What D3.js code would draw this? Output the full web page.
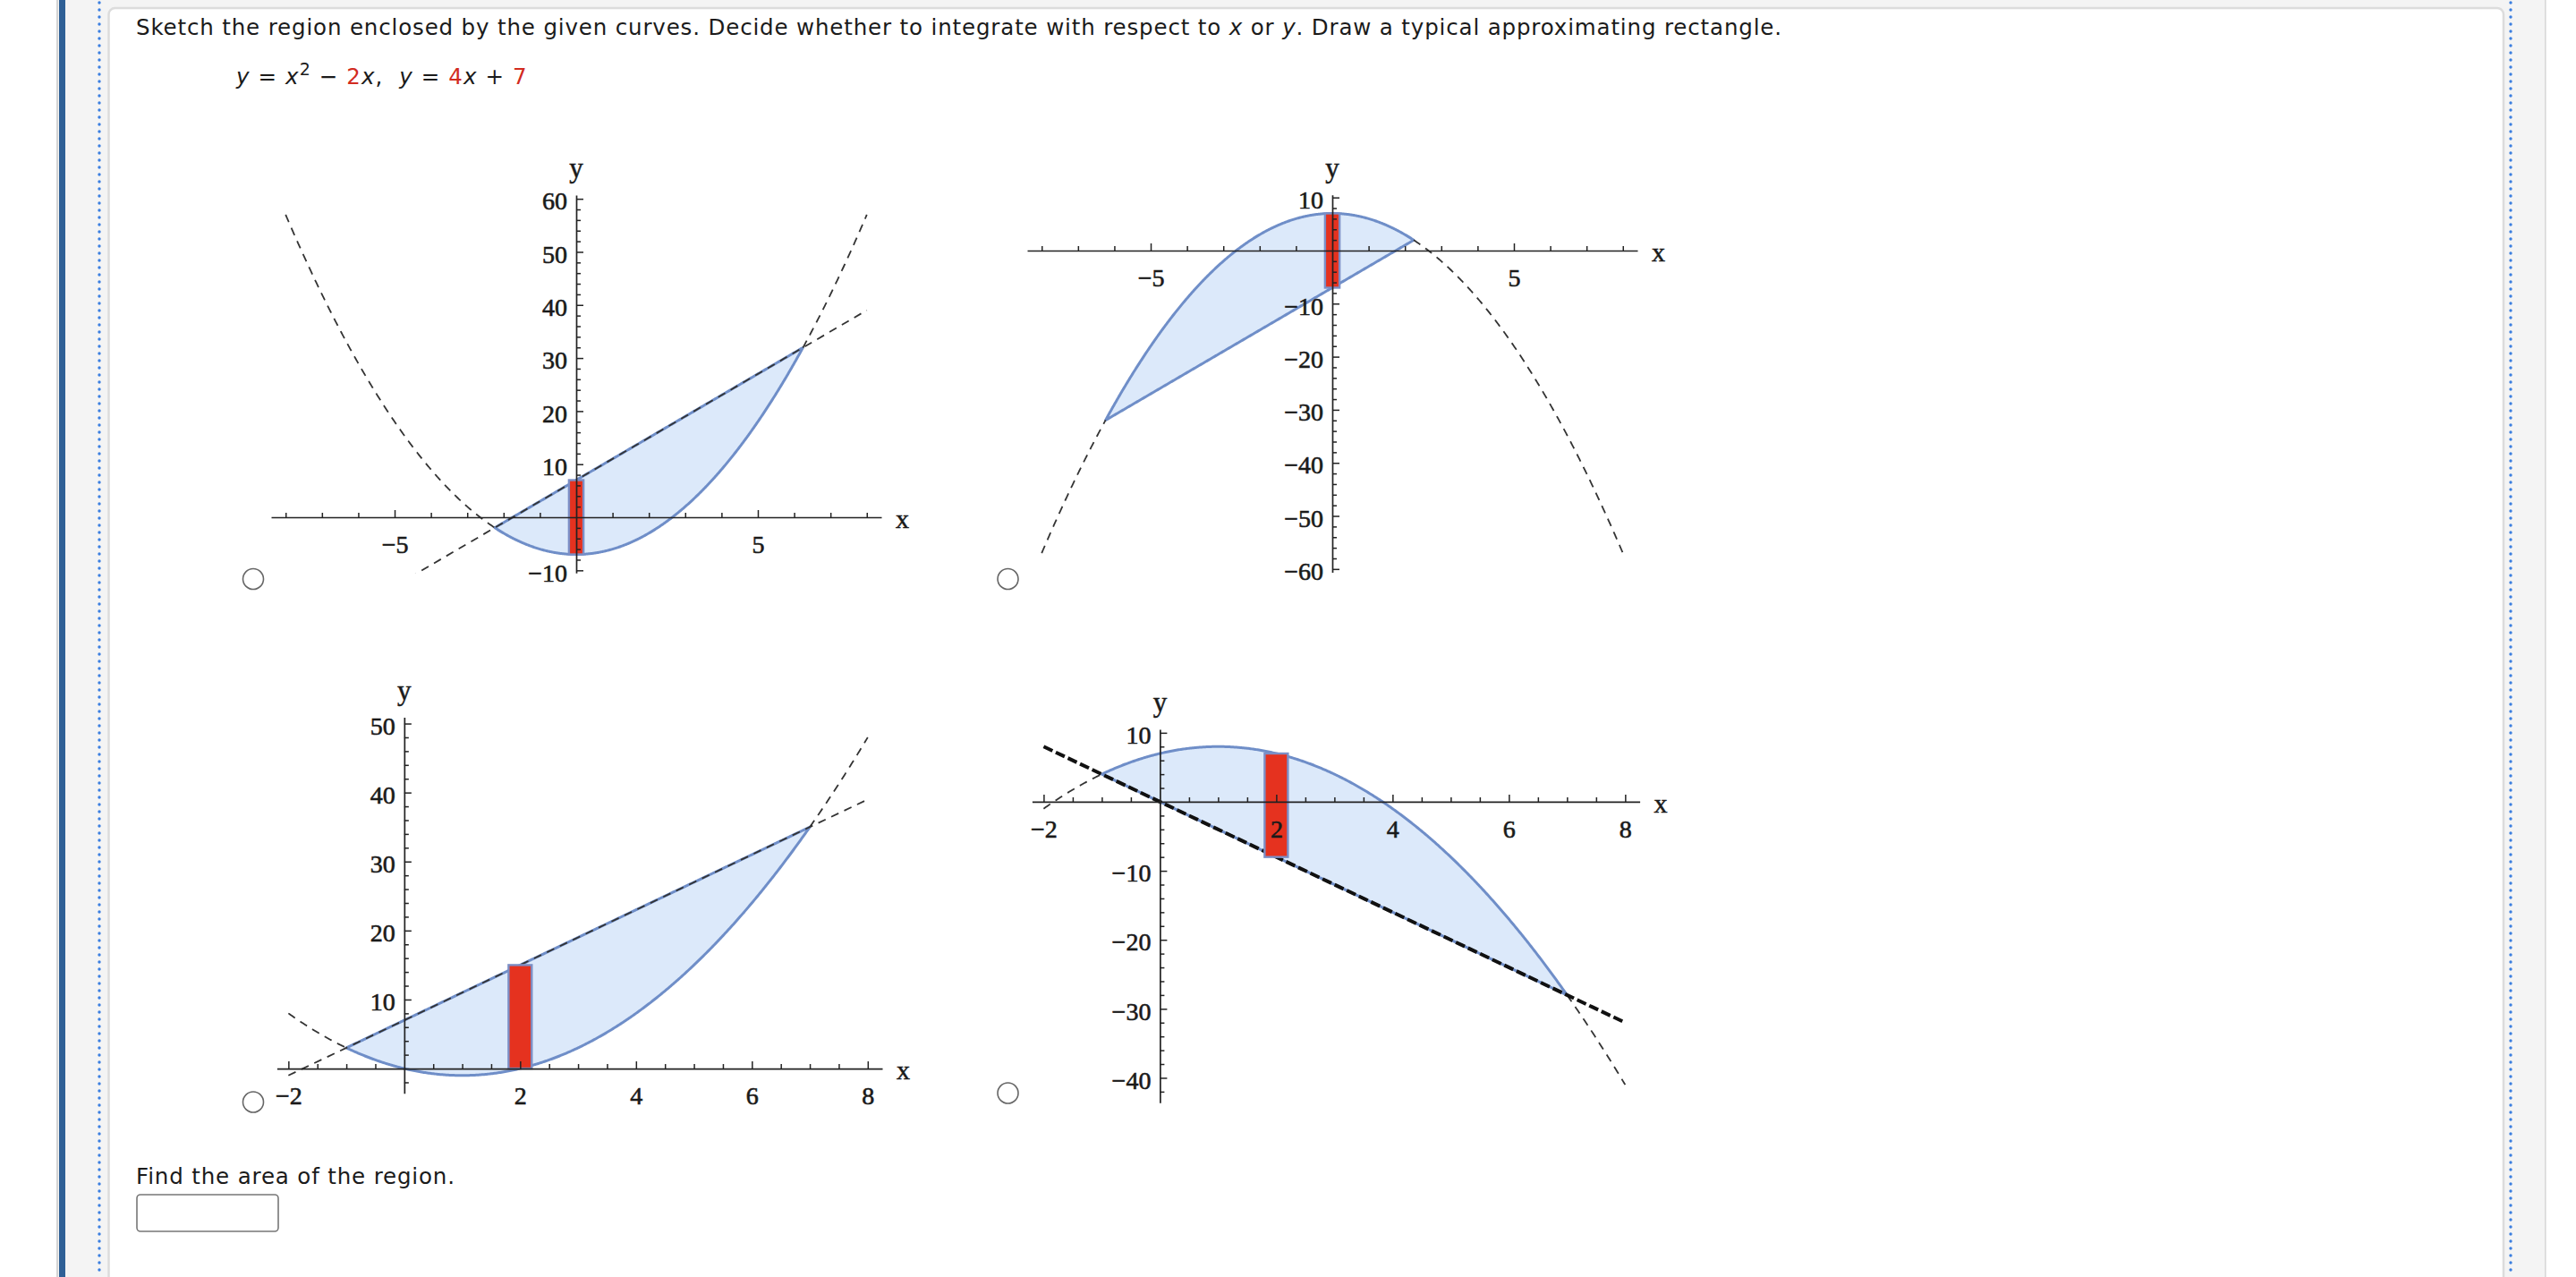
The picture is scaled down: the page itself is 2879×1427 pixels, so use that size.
<!DOCTYPE html>
<html>
<head>
<meta charset="utf-8">
<script src="https://cdn.jsdelivr.net/npm/d3@7"></script>
<style>
  body { margin: 0; background: #fff; }
  svg { display: block; }
</style>
</head>
<body>
<svg id="page" width="2879" height="1427"></svg>
<script>

/****************************  DATA  ****************************/
// y = a x^2 + b x + c   (one per answer choice, top-left, top-right, bottom-left, bottom-right)
const parabolas = [[1, 0, -7], [-1, 0, 7], [1, -2, 0], [-1, 2, 7]];
// y = m x + k
const lines = [[4, 7], [4, -7], [4, 7], [-4, 0]];
// x where the two curves meet: [left, right]
const crossings = [[-2.24, 6.24], [-6.24, 2.24], [-1, 7], [-1, 7]];
// approximating rectangle: [xFrom, xTo, yLow, yHigh]
const strips = [[-0.2, 0.2, -7, 7], [-0.2, 0.2, -7, 7], [1.8, 2.2, 0, 15], [1.8, 2.2, -8, 7]];
// how far the dashed curves run
const parabolaSpan = [[-8, 8], [-8, 8], [-2, 8], [-2, 8]];
const lineSpan = [[-8, 8], null, [-2, 8], [-2, 8]];
// axis extents
const xDomains = [[-8.4, 8.4], [-8.4, 8.4], [-2.2, 8.25], [-2.2, 8.25]];
const yDomains = [[-10.5, 60.7], [-60.6, 10.5], [-3.6, 50.9], [-43.6, 10.5]];
// tick labels
const xLabels = [[-5, 5], [-5, 5], [-2, 2, 4, 6, 8], [-2, 2, 4, 6, 8]];
const yLabels = [[-10, 10, 20, 30, 40, 50, 60], [10, -10, -20, -30, -40, -50, -60], [10, 20, 30, 40, 50], [10, -10, -20, -30, -40]];
// minor ticks: [from, to, step]
const xMinor = [[-8, 8, 1], [-8, 8, 1], [-2, 8, 0.5], [-2, 8, 0.5]];
const yMinor = [[-10, 60, 2], [-60, 10, 2], [-2, 50, 2], [-42, 10, 2]];
// which choice draws the line bold
const boldLine = [false, false, false, true];

/****************************  LAYOUT  ****************************/
const frames = [
    { x: [303, 985], y: [640.3, 218], radio: [283, 647] },
    { x: [1148, 1830], y: [639.4, 217.7], radio: [1126.5, 647] },
    { x: [309.4, 986], y: [1221.8, 801.6], radio: [283, 1231.5] },
    { x: [1153.4, 1832.6], y: [1232.2, 815], radio: [1126.5, 1221.5] }
];

const svg = d3.select('#page');
const W = 2879, H = 1427;

/****************************  PAGE CHROME  ****************************/
svg.append('rect').attr('width', W).attr('height', H).attr('fill', '#fff');
svg.append('rect').attr('x', 64).attr('width', 2781).attr('height', H).attr('fill', '#f4f4f4');
svg.append('rect').attr('x', 63).attr('width', 2).attr('height', H).attr('fill', '#d4d4d4');
svg.append('rect').attr('x', 66).attr('width', 7).attr('height', H).attr('fill', '#2f6096');

// dotted blue guides
[111, 2806].forEach(x => {
    svg.append('line')
        .attr('x1', x).attr('x2', x).attr('y1', 3).attr('y2', H)
        .attr('stroke', '#3b7fe0').attr('stroke-width', 3.4)
        .attr('stroke-linecap', 'round').attr('stroke-dasharray', '0,8');
});
svg.append('rect').attr('x', 2844).attr('width', 1.6).attr('height', H).attr('fill', '#d8d8d8');
svg.append('rect').attr('x', 2846).attr('width', W - 2846).attr('height', H).attr('fill', '#fff');

// white card
svg.append('rect')
    .attr('x', 121.5).attr('y', 9).attr('width', 2676.5).attr('height', 1500)
    .attr('rx', 7).attr('fill', '#fff').attr('stroke', '#dcdcdc').attr('stroke-width', 2.5);

/****************************  QUESTION TEXT  ****************************/
const sans = 'DejaVu Sans, Verdana, sans-serif';
const red = '#d22b1f';
// DejaVu is a bit narrower than the Verdana in the shot, so open it up a little
const textStyle = sel => sel
    .attr('font-family', sans).attr('font-size', 24.5)
    .attr('letter-spacing', 0.85).attr('fill', '#1b1b1b');

let q = svg.append('text').attr('x', 152).attr('y', 39).call(textStyle);
q.append('tspan').text('Sketch the region enclosed by the given curves. Decide whether to integrate with respect to ');
q.append('tspan').attr('font-style', 'italic').text('x');
q.append('tspan').text(' or ');
q.append('tspan').attr('font-style', 'italic').text('y');
q.append('tspan').text('. Draw a typical approximating rectangle.');

let eq = svg.append('text').attr('x', 264).attr('y', 94).call(textStyle)
    .attr('letter-spacing', 1.1)
    .attr('xml:space', 'preserve');
eq.append('tspan').attr('font-style', 'italic').text('y');
eq.append('tspan').text(' = ');
eq.append('tspan').attr('font-style', 'italic').text('x');
eq.append('tspan').attr('font-size', 19).attr('dy', -10).text('2');
eq.append('tspan').attr('dy', 10).text(' \u2212 ');
eq.append('tspan').attr('fill', red).text('2');
eq.append('tspan').attr('font-style', 'italic').text('x');
eq.append('tspan').text(',  ');
eq.append('tspan').attr('font-style', 'italic').text('y');
eq.append('tspan').text(' = ');
eq.append('tspan').attr('fill', red).text('4');
eq.append('tspan').attr('font-style', 'italic').text('x');
eq.append('tspan').text(' + ');
eq.append('tspan').attr('fill', red).text('7');

svg.append('text').attr('x', 152).attr('y', 1323).call(textStyle)
    .text('Find the area of the region.');
svg.append('rect')
    .attr('x', 153).attr('y', 1335).attr('width', 158).attr('height', 41).attr('rx', 4)
    .attr('fill', '#fff').attr('stroke', '#777').attr('stroke-width', 1.6);

/****************************  THE FOUR CHOICES  ****************************/
const parab = (c, x) => c[0] * x * x + c[1] * x + c[2];
const lin = (c, x) => c[0] * x + c[1];
const sample = (a, b) => d3.range(a, b, 0.02).concat([b]);
const round2 = v => Math.round(v * 100) / 100;
const serif = '"Liberation Serif", "Times New Roman", serif';

frames.forEach((f, i) => {
    let xs = d3.scaleLinear().domain(xDomains[i]).range(f.x);
    let ys = d3.scaleLinear().domain(yDomains[i]).range(f.y);
    let g = svg.append('g').attr('class', 'choice');

    let clipId = 'clip' + i;
    g.append('clipPath').attr('id', clipId)
        .append('rect')
        .attr('x', f.x[0]).attr('y', f.y[1])
        .attr('width', f.x[1] - f.x[0]).attr('height', f.y[0] - f.y[1]);

    let path = d3.line().x(d => xs(d[0])).y(d => ys(d[1]));

    // shaded region between the curves
    let [xl, xr] = crossings[i];
    let pts = sample(xl, xr).map(x => [x, parab(parabolas[i], x)])
        .concat(sample(xl, xr).reverse().map(x => [x, lin(lines[i], x)]));
    g.append('path')
        .attr('d', path(pts) + 'Z')
        .attr('fill', '#dce9fa')
        .attr('stroke', '#6f8ec8')
        .attr('stroke-width', 3)
        .attr('stroke-linejoin', 'round');

    // dashed continuations of the parabola
    let ps = parabolaSpan[i];
    [[ps[0], xl], [xr, ps[1]]].forEach(seg => {
        g.append('path')
            .attr('clip-path', `url(#${clipId})`)
            .attr('d', path(sample(seg[0], seg[1]).map(x => [x, parab(parabolas[i], x)])))
            .attr('fill', 'none').attr('stroke', '#333')
            .attr('stroke-width', 1.8).attr('stroke-dasharray', '9,7');
    });

    // dashed line
    if (lineSpan[i]) {
        let ls = lineSpan[i];
        g.append('path')
            .attr('clip-path', `url(#${clipId})`)
            .attr('d', path([[ls[0], lin(lines[i], ls[0])], [ls[1], lin(lines[i], ls[1])]]))
            .attr('fill', 'none')
            .attr('stroke', boldLine[i] ? '#111' : '#333')
            .attr('stroke-width', boldLine[i] ? 4 : 1.8)
            .attr('stroke-dasharray', boldLine[i] ? '11,4' : '9,7');
    }

    // typical approximating rectangle
    let s = strips[i];
    g.append('rect')
        .attr('x', xs(s[0])).attr('width', xs(s[1]) - xs(s[0]))
        .attr('y', ys(s[3])).attr('height', ys(s[2]) - ys(s[3]))
        .attr('fill', '#e5321f').attr('stroke', '#7c8fc6').attr('stroke-width', 2.4);

    /********************** AXES ********************************** */
    let styleAxis = sel => {
        sel.attr('font-family', null).attr('font-size', null);
        sel.selectAll('.tick line').attr('stroke', '#222').attr('stroke-width', 1.5);
        sel.selectAll('.tick text')
            .style('font-family', serif).style('font-size', '28px')
            .attr('fill', '#1a1a1a')
            .attr('stroke', '#1a1a1a').attr('stroke-width', 0.6);
        sel.select('.domain').attr('stroke', '#222').attr('stroke-width', 1.7);
    };

    let xm = xMinor[i], ym = yMinor[i];
    let xMinorVals = d3.range(xm[0], xm[1] + 1e-6, xm[2]).map(round2)
        .filter(v => v !== 0 && !xLabels[i].includes(v));
    let yMinorVals = d3.range(ym[0], ym[1] + 1e-6, ym[2]).map(round2)
        .filter(v => v !== 0 && !yLabels[i].includes(v));

    g.append('g').attr('transform', `translate(0,${ys(0)})`)
        .call(d3.axisBottom(xs).tickValues(xMinorVals).tickSize(-5).tickSizeOuter(0).tickFormat(''))
        .call(styleAxis);
    g.append('g').attr('transform', `translate(0,${ys(0)})`)
        .call(d3.axisBottom(xs).tickValues(xLabels[i]).tickSize(-8).tickSizeOuter(0).tickPadding(20))
        .call(styleAxis)
        .call(a => a.select('.domain').remove());

    g.append('g').attr('transform', `translate(${xs(0)},0)`)
        .call(d3.axisLeft(ys).tickValues(yMinorVals).tickSize(-5).tickSizeOuter(0).tickFormat(''))
        .call(styleAxis);
    g.append('g').attr('transform', `translate(${xs(0)},0)`)
        .call(d3.axisLeft(ys).tickValues(yLabels[i]).tickSize(-8).tickSizeOuter(0).tickPadding(10))
        .call(styleAxis)
        .call(a => a.select('.domain').remove())
        .call(a => a.selectAll('text').attr('dy', '0.42em'));

    // axis names
    g.append('text')
        .attr('x', xs(0)).attr('y', f.y[1] - 20)
        .attr('text-anchor', 'middle')
        .style('font-family', serif).style('font-size', '31px').attr('fill', '#1a1a1a')
        .attr('stroke', '#1a1a1a').attr('stroke-width', 0.5)
        .text('y');
    g.append('text')
        .attr('x', f.x[1] + 16).attr('y', ys(0) + 12)
        .style('font-family', serif).style('font-size', '30px').attr('fill', '#1a1a1a')
        .attr('stroke', '#1a1a1a').attr('stroke-width', 0.5)
        .text('x');

    // radio button
    svg.append('circle')
        .attr('cx', f.radio[0]).attr('cy', f.radio[1]).attr('r', 11.5)
        .attr('fill', '#fff').attr('stroke', '#666').attr('stroke-width', 1.6);
});

</script>
</body>
</html>
